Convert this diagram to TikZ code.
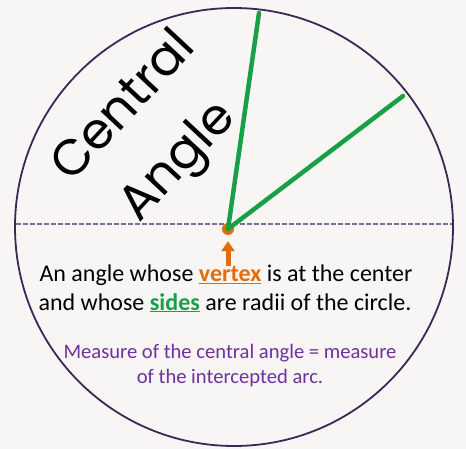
\documentclass[tikz,border=0pt]{standalone}
\usepackage{fontspec}
\setmainfont{Carlito}
\newfontfamily\titlefont{Poppins}
\usetikzlibrary{arrows.meta,calc,positioning}
\definecolor{bgc}{RGB}{247,246,244}
\definecolor{rim}{RGB}{60,40,85}
\definecolor{dia}{RGB}{125,105,145}
\definecolor{grn}{RGB}{25,160,70}
\definecolor{org}{RGB}{228,108,10}
\definecolor{prp}{RGB}{112,48,160}
\tikzset{
  side/.style={grn,line width=4.5pt},
  title/.style={font=\titlefont\fontsize{50}{50}\selectfont,inner sep=0pt},
  maintxt/.style={font=\fontsize{24}{28}\selectfont,anchor=base,inner sep=0pt},
  note/.style={prp,font=\fontsize{20.6}{24}\selectfont,anchor=base,inner sep=0pt}
}

\begin{document}
\begin{tikzpicture}[x=1pt,y=-1pt,line join=round,line cap=round]
\fill[bgc] (0,0) rectangle (466,449);
\useasboundingbox (0,0) rectangle (466,449);
\coordinate (O) at (234,227);
\coordinate (W) at (16,224);
\coordinate (E) at (452,224);
\coordinate (P) at (259,13);
\coordinate (Q) at (403,96);
\coordinate (R) at (228,266);
\draw[rim,line width=1.8pt] (O) circle (219pt);
\draw[dia,line width=2.4pt,line cap=butt,dash pattern=on 5pt off 2pt] (W)--(E);
\node[circle,fill=org,inner sep=0pt,minimum size=12pt] (V) at (228,229) {};
\draw[side] (V.center)--(P) (V.center)--(Q);
\draw[org,line width=5pt,line cap=butt,-{Triangle[width=13pt,length=10pt]},shorten >=6pt] (R)--(V.south);
% labels
\node[title,rotate=47] (C) at (121,104) {Central};
\node[title,rotate=47] (A) at (180,163) {Angle};
\node[maintxt] (L1) at (226,282) {An angle whose \textbf{\color{org}\underline{vertex}} is at the center};
\node[maintxt] (L2) at (225,310) {and whose \textbf{\color{grn}\underline{sides}} are radii of the circle.};
\node[note] (M1) at (230,358) {Measure of the central angle = measure};
\node[note] (M2) at (230,383) {of the intercepted arc.};
\end{tikzpicture}
\end{document}
